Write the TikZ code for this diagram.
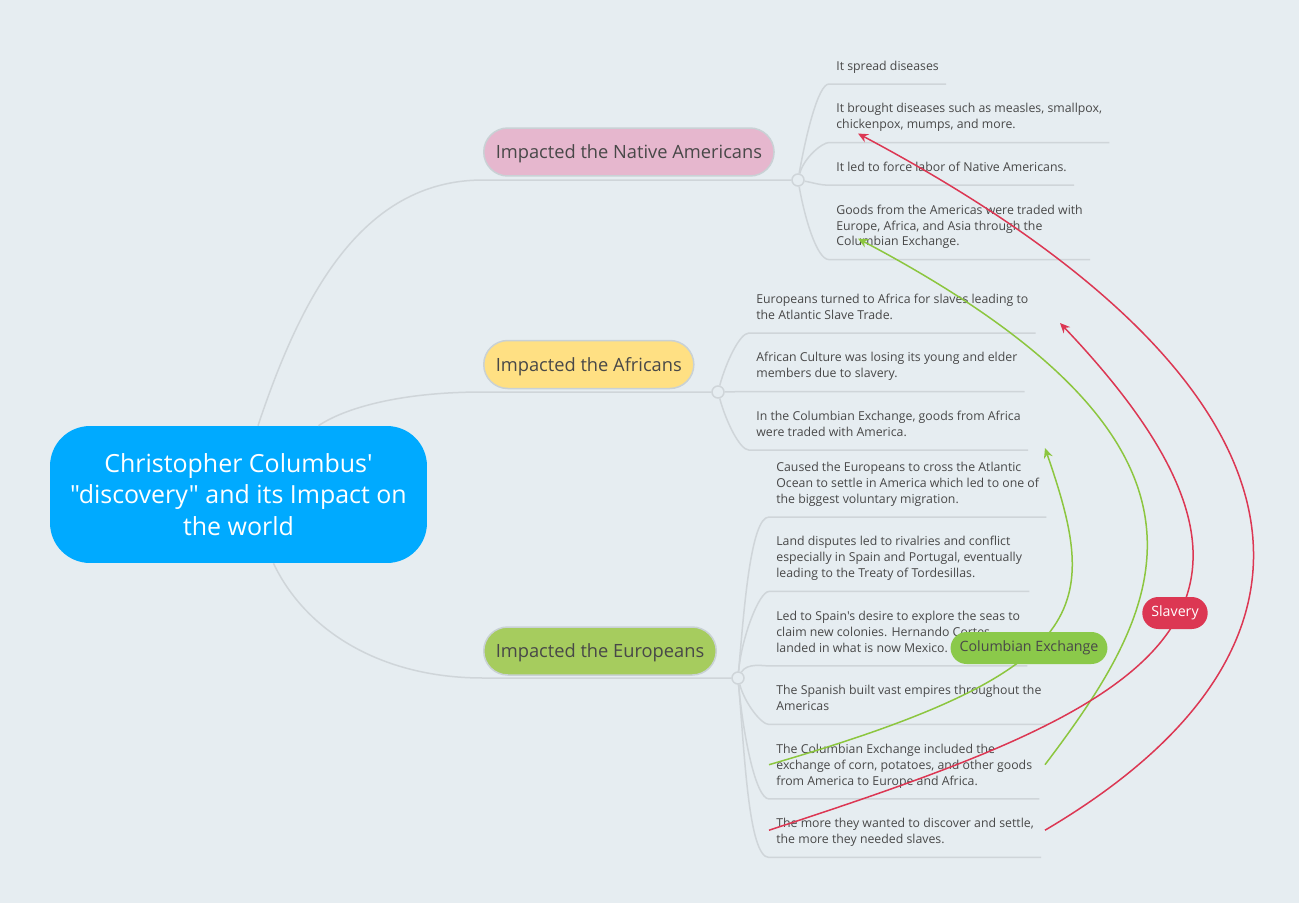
\documentclass[tikz,border=0pt]{standalone}
\usepackage{fontspec}
\newfontfamily\opensans{Open Sans}
\usetikzlibrary{positioning,arrows.meta}
\definecolor{bgc}{HTML}{E6EDF1}
\definecolor{rootblue}{HTML}{00AAFF}
\definecolor{pinkfill}{HTML}{E6B7CE}
\definecolor{yellowfill}{HTML}{FFE083}
\definecolor{greenfill}{HTML}{A6CC5E}
\definecolor{treegrey}{HTML}{CFD5D9}
\definecolor{edgegrey}{HTML}{C9D1D5}
\definecolor{inkgrey}{HTML}{484848}
\definecolor{linkred}{HTML}{DC3753}
\definecolor{linkgreen}{HTML}{8CC63F}
\definecolor{taggreen}{HTML}{8BC94A}
\newcommand\leafstrut{\rule{0pt}{11.45pt}}

\begin{document}
\begin{tikzpicture}[x=0.02cm,y=0.02cm,>={Stealth[length=2mm,width=1.8mm]},
  limb/.style={draw=treegrey,line width=0.03cm},
  twig/.style={draw=treegrey,line width=0.03cm},
  topic/.style={rounded corners=0.48cm,draw=edgegrey,line width=0.03cm,minimum height=0.96cm,
    inner xsep=0.24cm,anchor=west,text=inkgrey,text depth=0pt,font=\opensans\fontsize{10.4}{12}\selectfont},
  leaf/.style={align=left,inner xsep=0.14cm,inner ysep=0.17cm,text=inkgrey,
    font=\opensans\fontsize{7}{9.07}\selectfont,execute at end node=\strut},
  junction/.style={circle,draw=treegrey,fill=bgc,line width=0.03cm,minimum size=0.24cm,inner sep=0pt},
  tag/.style={rounded corners=0.32cm,minimum height=0.64cm,inner xsep=0.18cm,font=\opensans\fontsize{8.1}{10}\selectfont},
  link/.style={line width=0.03cm,->}]
\useasboundingbox (0,0) rectangle (1299,-903);
\fill[bgc] (0,0) rectangle (1299,-903);

% central topic and main branches
\node[fill=rootblue,text=white,rounded corners=0.8cm,minimum width=7.54cm,minimum height=2.74cm,
  align=center,font=\opensans\fontsize{14.2}{18.1}\selectfont] (root) at (238.5,-494.5)
  {Christopher Columbus'\\"discovery" and its Impact on\\the world};
\node[topic,fill=pinkfill] (natv) at (483,-152) {Impacted the Native Americans};
\node[topic,fill=yellowfill] (afr) at (483,-364.5) {Impacted the Africans};
\node[topic,fill=greenfill] (eur) at (483,-651) {Impacted the Europeans};

\node[junction] (natvj) at (798,-180) {};
\node[junction] (afrj) at (718,-392) {};
\node[junction] (eurj) at (738,-678) {};

% native americans
\node[leaf,anchor=south west] (natv1) at (829,-84) {\leafstrut It spread diseases};
\node[leaf,below right=0pt and 0pt of natv1.south west] (natv2)
  {\leafstrut It brought diseases such as measles, smallpox,\\chickenpox, mumps, and more.};
\node[leaf,below right=0pt and 0pt of natv2.south west] (natv3)
  {\leafstrut It led to force labor of Native Americans.};
\node[leaf,below right=0pt and 0pt of natv3.south west] (natv4)
  {\leafstrut Goods from the Americas were traded with\\Europe, Africa, and Asia through the\\Columbian Exchange.};

% africans
\node[leaf,anchor=south west] (afr1) at (749,-333)
  {\leafstrut Europeans turned to Africa for slaves leading to\\the Atlantic Slave Trade.};
\node[leaf,below right=0pt and 0pt of afr1.south west] (afr2)
  {\leafstrut African Culture was losing its young and elder\\members due to slavery.};
\node[leaf,below right=0pt and 0pt of afr2.south west] (afr3)
  {\leafstrut In the Columbian Exchange, goods from Africa\\were traded with America.};

% europeans
\node[leaf,anchor=south west] (eur1) at (769,-517)
  {\leafstrut Caused the Europeans to cross the Atlantic\\Ocean to settle in America which led to one of\\the biggest voluntary migration.};
\node[leaf,below right=0pt and 0pt of eur1.south west] (eur2)
  {\leafstrut Land disputes led to rivalries and conflict\\especially in Spain and Portugal, eventually\\leading to the Treaty of Tordesillas.};
\node[leaf,below right=0pt and 0pt of eur2.south west] (eur3)
  {\leafstrut Led to Spain's desire to explore the seas to\\claim new colonies. Hernando Cortes\\landed in what is now Mexico.};
\node[leaf,below right=0pt and 0pt of eur3.south west] (eur4)
  {\leafstrut The Spanish built vast empires throughout the\\Americas};
\node[leaf,below right=0pt and 0pt of eur4.south west] (eur5)
  {\leafstrut The Columbian Exchange included the\\exchange of corn, potatoes, and other goods\\from America to Europe and Africa.};
\node[leaf,below right=0pt and 0pt of eur5.south west] (eur6)
  {\leafstrut The more they wanted to discover and settle,\\the more they needed slaves.};

% limbs from the centre
\draw[limb] ([xshift=0.39cm]root.north) .. controls (300,-300) and (360,-180) .. (natv.west |- natvj) -- (natvj);
\draw[limb] ([xshift=1.6cm]root.north) .. controls (345,-408) and (400,-392) .. (afr.west |- afrj) -- (afrj);
\draw[limb] ([xshift=0.7cm]root.south) .. controls (305,-630) and (380,-678) .. (eur.west |- eurj) -- (eurj);

% twigs with underlines
\draw[twig] (natvj) to[out=80,in=180,in looseness=.3] (natv1.south west) -- (natv1.south east);
\draw[twig] (natvj) to[out=75,in=180,in looseness=.4] (natv2.south west) -- (natv2.south east);
\draw[twig] (natvj) to[out=-10,in=180] (natv3.south west) -- (natv3.south east);
\draw[twig] (natvj) to[out=-80,in=180,in looseness=.4] (natv4.south west) -- (natv4.south east);
\draw[twig] (afrj) to[out=75,in=180,in looseness=.4] (afr1.south west) -- (afr1.south east);
\draw[twig] (afrj) -- (afr2.south west) -- (afr2.south east);
\draw[twig] (afrj) to[out=-75,in=180,in looseness=.4] (afr3.south west) -- (afr3.south east);
\draw[twig] (eurj) to[out=85,in=180,in looseness=.3] (eur1.south west) -- (eur1.south east);
\draw[twig] (eurj) to[out=85,in=180,in looseness=.3] (eur2.south west) -- (eur2.south east);
\draw[twig] (eurj) to[out=60,in=180,in looseness=.5] (eur3.south west) -- (eur3.south east);
\draw[twig] (eurj) to[out=-75,in=180,in looseness=.4] (eur4.south west) -- (eur4.south east);
\draw[twig] (eurj) to[out=-85,in=180,in looseness=.3] (eur5.south west) -- (eur5.south east);
\draw[twig] (eurj) to[out=-85,in=180,in looseness=.3] (eur6.south west) -- (eur6.south east);

% relationships
\draw[link,linkgreen] ([yshift=-0.06cm]eur5.west) .. controls (1096,-670) and (1100,-607) .. ([shift={(296,2)}]afr3.south west);
\draw[link,linkgreen] ([shift={(276,-3)}]eur5.west) .. controls (1165,-606) and (1254,-448) .. ([shift={(29,21)}]natv4.south west);
\draw[link,linkred] ([yshift=-0.04cm]eur6.west) .. controls (1120,-715) and (1350,-628) .. ([shift={(311,10)}]afr1.south west);
\draw[link,linkred] ([shift={(276,-2)}]eur6.west) .. controls (1368,-640) and (1322,-380) .. ([shift={(29,9)}]natv2.south west);
\node[tag,fill=taggreen,text=inkgrey] (exch) at (1029,-648) {Columbian Exchange};
\node[tag,fill=linkred,text=white] (slav) at (1175,-613) {Slavery};
\end{tikzpicture}
\end{document}
